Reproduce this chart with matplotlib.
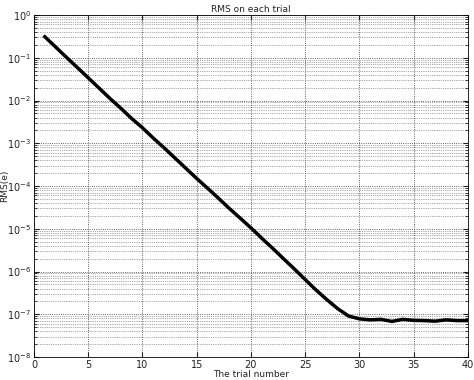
import matplotlib
matplotlib.use("Agg")
import matplotlib.pyplot as plt
from matplotlib.ticker import LogLocator, NullFormatter, MultipleLocator

trials = list(range(1, 41))
rms = [3.1e-1, 1.78e-1, 1.02e-1, 5.9e-2, 3.4e-2, 1.95e-2, 1.12e-2, 6.6e-3, 3.8e-3, 2.3e-3,
       1.32e-3, 7.8e-4, 4.5e-4, 2.6e-4, 1.5e-4, 8.9e-5, 5.2e-5, 3.0e-5, 1.78e-5, 1.05e-5,
       6.0e-6, 3.5e-6, 2.0e-6, 1.15e-6, 6.5e-7, 3.7e-7, 2.2e-7, 1.35e-7, 9.1e-8, 7.8e-8,
       7.4e-8, 7.6e-8, 6.8e-8, 7.6e-8, 7.2e-8, 7.1e-8, 6.9e-8, 7.4e-8, 7.1e-8, 7.1e-8]

fig = plt.figure(figsize=(4.74, 3.80), dpi=100)
ax = fig.add_axes([0.0717, 0.0605, 0.9153, 0.9])
ax.plot(trials, rms, color='black', linewidth=2.5)
ax.set_yscale('log')
ax.set_xlim(0, 40)
ax.set_ylim(1e-8, 1)
ax.xaxis.set_major_locator(MultipleLocator(5))
ax.yaxis.set_major_locator(LogLocator(base=10, numticks=20))
ax.yaxis.set_minor_locator(LogLocator(base=10, subs=range(2, 10), numticks=20))
ax.yaxis.set_minor_formatter(NullFormatter())
ax.grid(True, which='major', linestyle=':', color='#333333', linewidth=0.6)
ax.grid(True, which='minor', axis='y', linestyle=':', color='#555555', linewidth=0.5)
ax.tick_params(which='both', direction='in', top=True, right=True, colors='#222222')
ax.tick_params(axis='x', pad=2, labelsize=7)
ax.tick_params(axis='y', pad=2, labelsize=7)
ax.tick_params(which='minor', length=2)
ax.set_title('RMS on each trial', fontsize=6.5, pad=2, color='#222222')
ax.set_xlabel('The trial number', fontsize=6.5, labelpad=0, color='#222222')
ax.set_ylabel('RMS(e)', fontsize=6.5, color='#222222')
ax.yaxis.set_label_coords(-0.058, 0.5)
for s in ax.spines.values():
    s.set_linewidth(0.6)
fig.savefig('out.png', dpi=100)
